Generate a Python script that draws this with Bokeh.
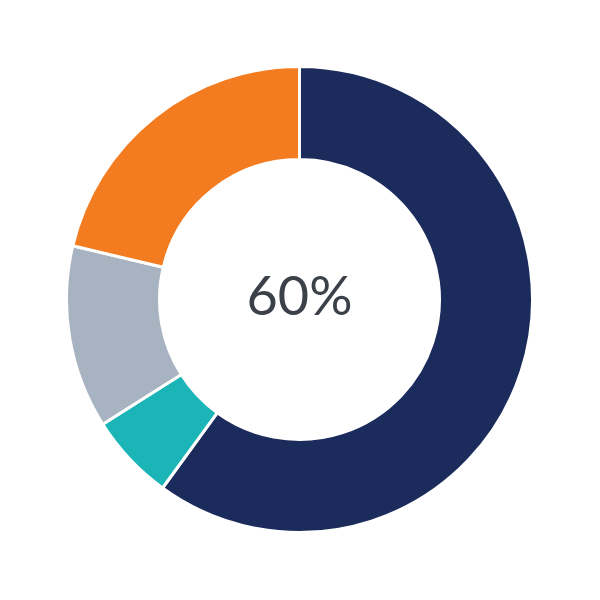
import math
from bokeh.plotting import figure
from bokeh.models import ColumnDataSource
from bokeh.core.properties import value
from bokeh.embed import file_html
from bokeh.resources import INLINE

segments = ["Segment 1", "Segment 2", "Segment 3", "Segment 4"]
shares = [60, 6, 12.7, 21.3]
colors = ["#1b2b5b", "#1bb5b8", "#a8b3c1", "#f47c20"]
center_label = "60%"

total = sum(shares)
starts, ends = [], []
cum = 0
for s in shares:
    starts.append(math.pi / 2 - 2 * math.pi * cum / total)
    cum += s
    ends.append(math.pi / 2 - 2 * math.pi * cum / total)

src = ColumnDataSource(dict(seg=segments, share=shares, color=colors,
                            start=starts, end=ends))

p = figure(width=584, height=584, x_range=(-299, 285), y_range=(-285, 299),
           output_backend="svg", toolbar_location=None, min_border=0)
p.axis.visible = False
p.grid.visible = False
p.outline_line_color = None
p.background_fill_color = "white"

p.annular_wedge(x=0, y=0, inner_radius=140, outer_radius=233,
                start_angle="start", end_angle="end", direction="clock",
                fill_color="color", line_color="white", line_width=3,
                source=src)

p.text(x=[0], y=[0], y_offset=-5, text=[center_label], text_align="center",
       text_baseline="middle", text_font=value("Lato"),
       text_font_size="54px", text_color="#3c4049")

open("out.html", "w").write(file_html(p, INLINE))
